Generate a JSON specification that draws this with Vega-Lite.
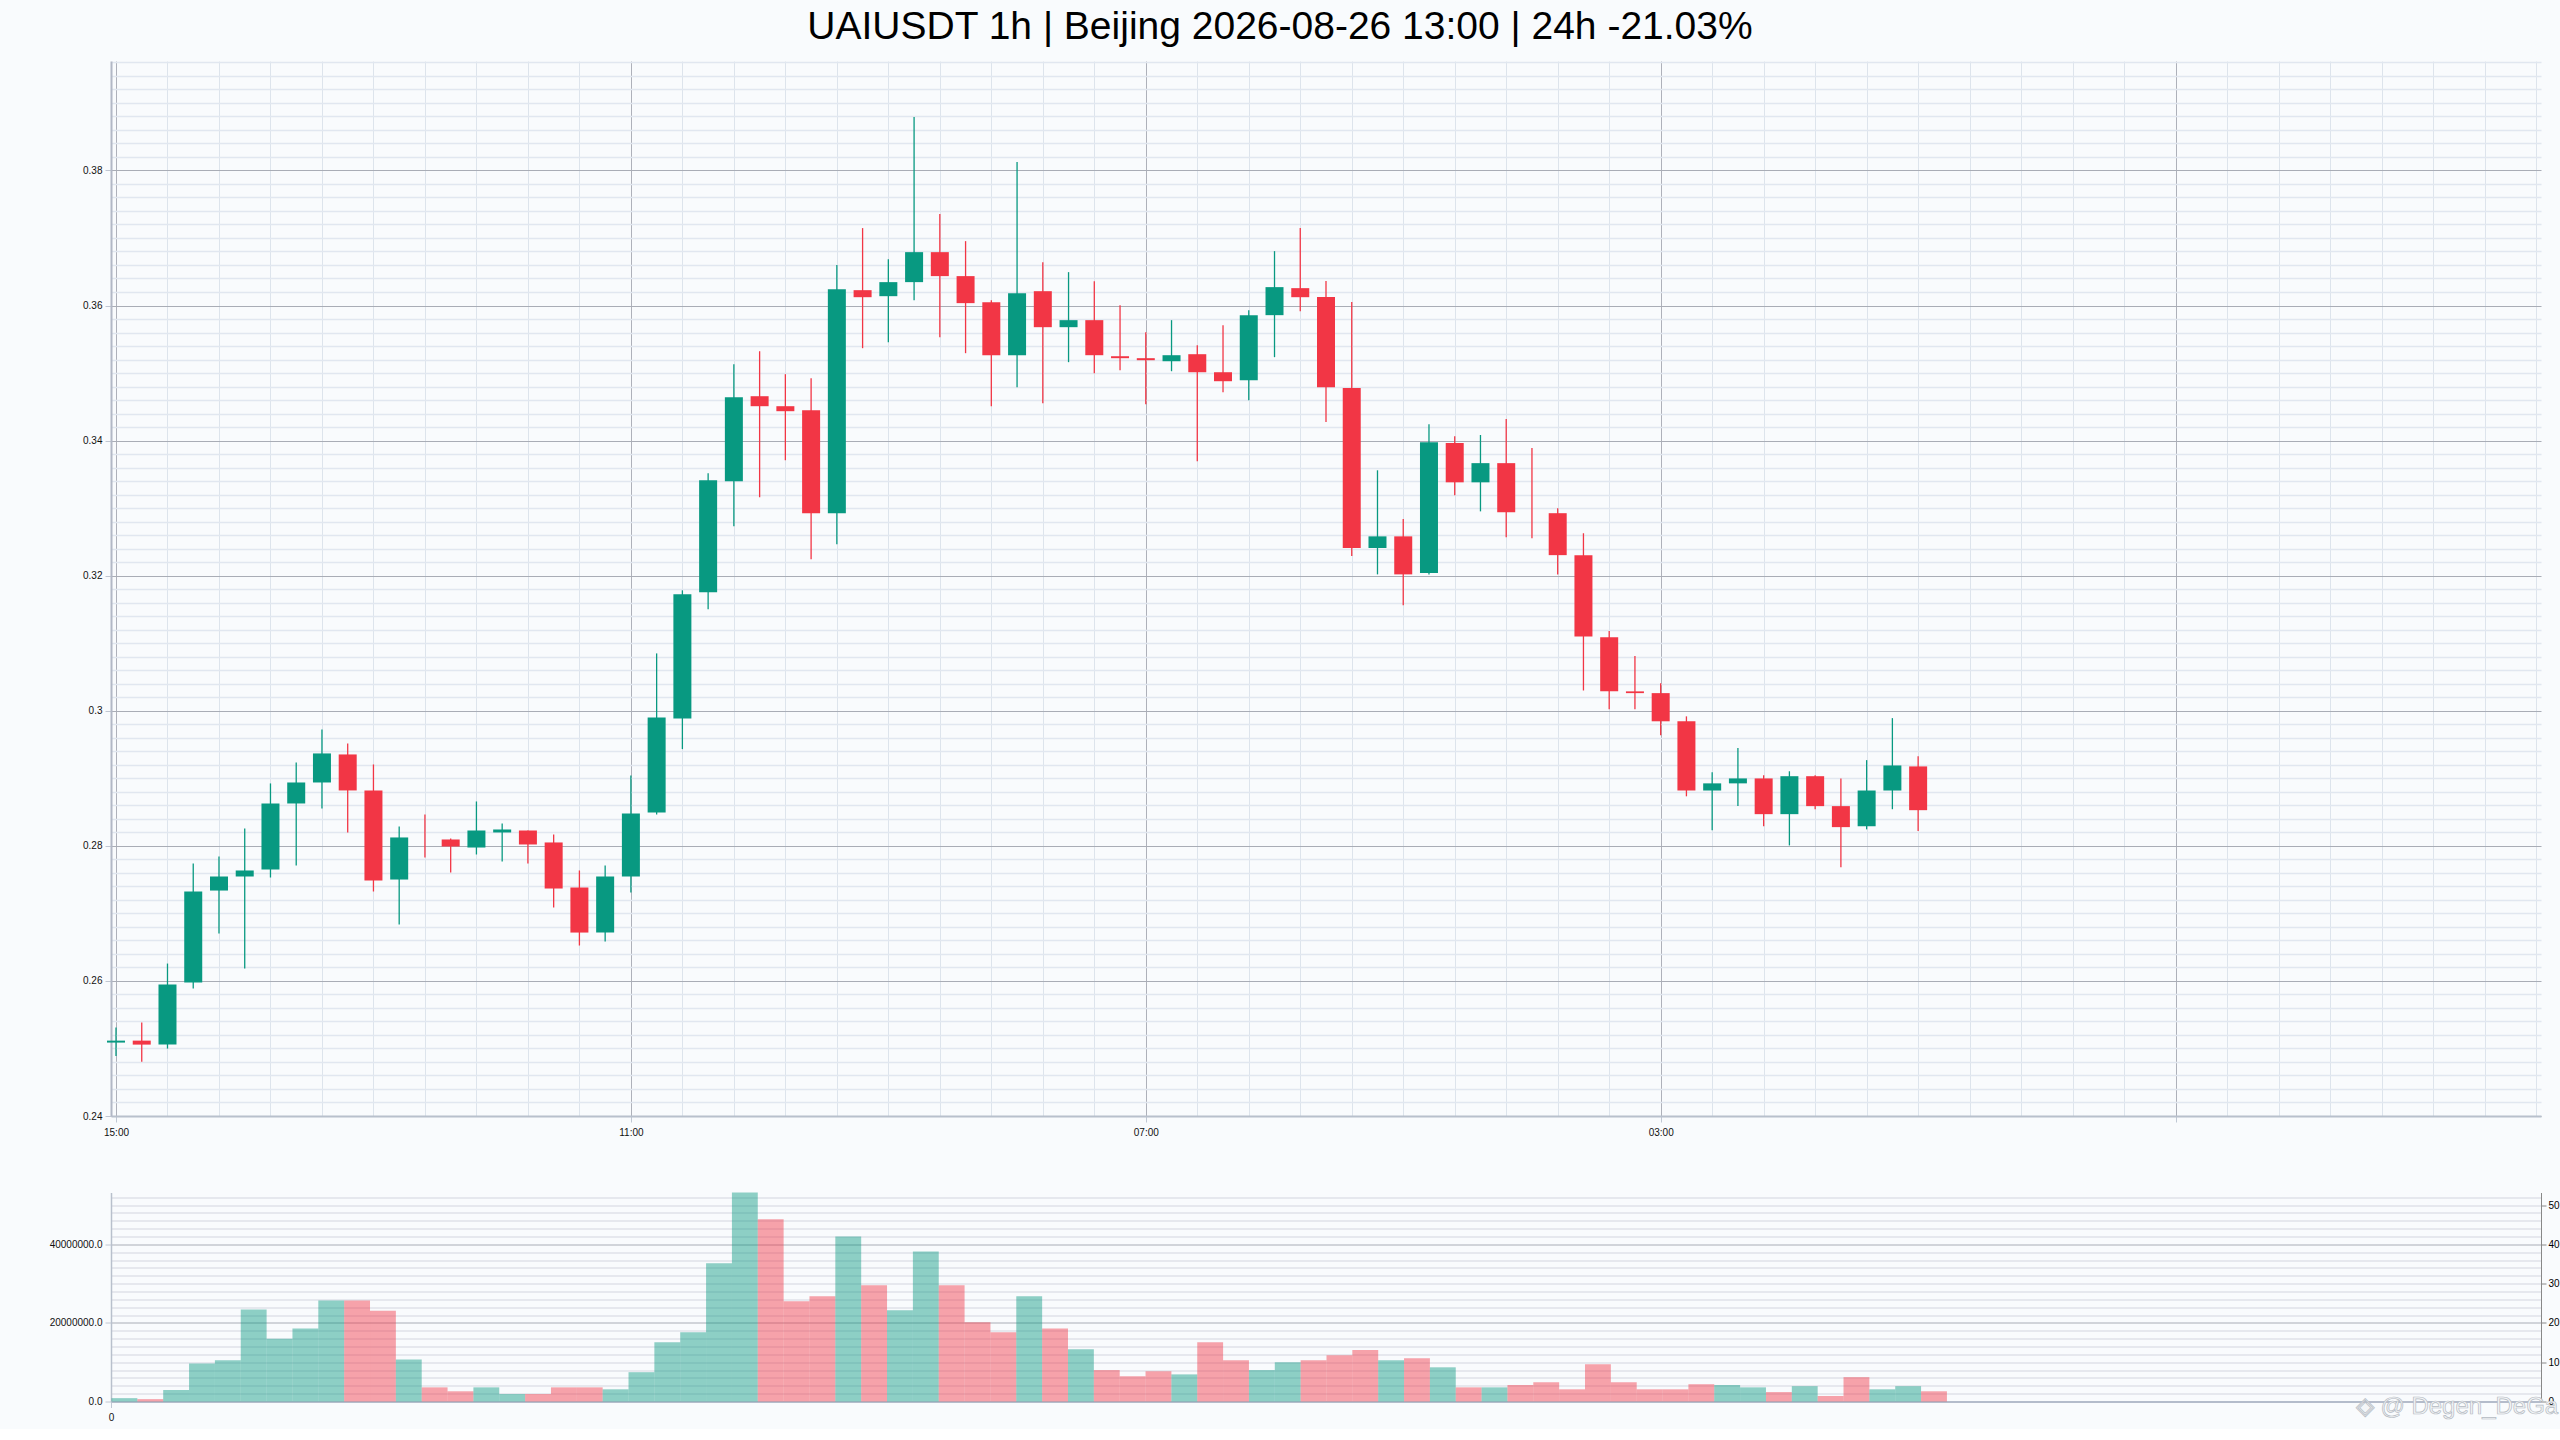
{
"$schema":"https://vega.github.io/schema/vega-lite/v6.json",
"background":"#f9fbfd",
"padding":{"left":49,"top":8,"right":20,"bottom":6},
"title":{"text":"UAIUSDT 1h | Beijing 2026-08-26 13:00 | 24h -21.03%","anchor":"start","align":"center","dx":1169,"frame":"group","font":"Liberation Sans","fontSize":39,"fontWeight":"normal","color":"#000000","offset":14},
"config":{"view":{"stroke":null},"font":"Liberation Sans"},
"bounds":"flush",
"spacing":76.5,
"datasets":{
"k":[
{"i":0,"t":"2026-08-23T15:00:00","o":0.25087,"h":0.25309,"l":0.24889,"c":0.25116,"v":0.85,"dir":"up"},
{"i":1,"t":"2026-08-23T16:00:00","o":0.25116,"h":0.25383,"l":0.24805,"c":0.25057,"v":0.6,"dir":"down"},
{"i":2,"t":"2026-08-23T17:00:00","o":0.25057,"h":0.26257,"l":0.24998,"c":0.25946,"v":2.9,"dir":"up"},
{"i":3,"t":"2026-08-23T18:00:00","o":0.25976,"h":0.27738,"l":0.25887,"c":0.27324,"v":9.7,"dir":"up"},
{"i":4,"t":"2026-08-23T19:00:00","o":0.27338,"h":0.27842,"l":0.26701,"c":0.27546,"v":10.5,"dir":"up"},
{"i":5,"t":"2026-08-23T20:00:00","o":0.27546,"h":0.28257,"l":0.26183,"c":0.27635,"v":23.4,"dir":"up"},
{"i":6,"t":"2026-08-23T21:00:00","o":0.27649,"h":0.28924,"l":0.27531,"c":0.28627,"v":16.0,"dir":"up"},
{"i":7,"t":"2026-08-23T22:00:00","o":0.28627,"h":0.29235,"l":0.27709,"c":0.28938,"v":18.6,"dir":"up"},
{"i":8,"t":"2026-08-23T23:00:00","o":0.28938,"h":0.29723,"l":0.28553,"c":0.29368,"v":25.7,"dir":"up"},
{"i":9,"t":"2026-08-24T00:00:00","o":0.29353,"h":0.29516,"l":0.28198,"c":0.2882,"v":25.7,"dir":"down"},
{"i":10,"t":"2026-08-24T01:00:00","o":0.2882,"h":0.29205,"l":0.27324,"c":0.27487,"v":23.1,"dir":"down"},
{"i":11,"t":"2026-08-24T02:00:00","o":0.27501,"h":0.28287,"l":0.26835,"c":0.28124,"v":10.7,"dir":"up"},
{"i":12,"t":"2026-08-24T03:00:00","o":0.281,"h":0.28464,"l":0.27827,"c":0.281,"v":3.6,"dir":"down"},
{"i":13,"t":"2026-08-24T04:00:00","o":0.28094,"h":0.28109,"l":0.27605,"c":0.2799,"v":2.6,"dir":"down"},
{"i":14,"t":"2026-08-24T05:00:00","o":0.27975,"h":0.28657,"l":0.27872,"c":0.28227,"v":3.6,"dir":"up"},
{"i":15,"t":"2026-08-24T06:00:00","o":0.28198,"h":0.28331,"l":0.27768,"c":0.28242,"v":1.9,"dir":"up"},
{"i":16,"t":"2026-08-24T07:00:00","o":0.28227,"h":0.28227,"l":0.27738,"c":0.2802,"v":1.9,"dir":"down"},
{"i":17,"t":"2026-08-24T08:00:00","o":0.2805,"h":0.28168,"l":0.27087,"c":0.27368,"v":3.6,"dir":"down"},
{"i":18,"t":"2026-08-24T09:00:00","o":0.27383,"h":0.27635,"l":0.26524,"c":0.26716,"v":3.6,"dir":"down"},
{"i":19,"t":"2026-08-24T10:00:00","o":0.26716,"h":0.27709,"l":0.26583,"c":0.27546,"v":3.1,"dir":"up"},
{"i":20,"t":"2026-08-24T11:00:00","o":0.27546,"h":0.29042,"l":0.27309,"c":0.28479,"v":7.46,"dir":"up"},
{"i":21,"t":"2026-08-24T12:00:00","o":0.28494,"h":0.30849,"l":0.28464,"c":0.29901,"v":15.1,"dir":"up"},
{"i":22,"t":"2026-08-24T13:00:00","o":0.29886,"h":0.31783,"l":0.29432,"c":0.31724,"v":17.6,"dir":"up"},
{"i":23,"t":"2026-08-24T14:00:00","o":0.31753,"h":0.33516,"l":0.31501,"c":0.33412,"v":35.2,"dir":"up"},
{"i":24,"t":"2026-08-24T15:00:00","o":0.33398,"h":0.35131,"l":0.32731,"c":0.34642,"v":53.2,"dir":"up"},
{"i":25,"t":"2026-08-24T16:00:00","o":0.34657,"h":0.35323,"l":0.33161,"c":0.34509,"v":46.4,"dir":"down"},
{"i":26,"t":"2026-08-24T17:00:00","o":0.34509,"h":0.34983,"l":0.33709,"c":0.34435,"v":25.5,"dir":"down"},
{"i":27,"t":"2026-08-24T18:00:00","o":0.34449,"h":0.34924,"l":0.32242,"c":0.32924,"v":26.8,"dir":"down"},
{"i":28,"t":"2026-08-24T19:00:00","o":0.32924,"h":0.36598,"l":0.32464,"c":0.36242,"v":42.0,"dir":"up"},
{"i":29,"t":"2026-08-24T20:00:00","o":0.36227,"h":0.37146,"l":0.35368,"c":0.36123,"v":29.6,"dir":"down"},
{"i":30,"t":"2026-08-24T21:00:00","o":0.36138,"h":0.36686,"l":0.35457,"c":0.36346,"v":23.2,"dir":"up"},
{"i":31,"t":"2026-08-24T22:00:00","o":0.36346,"h":0.3879,"l":0.36079,"c":0.3679,"v":38.2,"dir":"up"},
{"i":32,"t":"2026-08-24T23:00:00","o":0.3679,"h":0.37353,"l":0.35531,"c":0.36435,"v":29.6,"dir":"down"},
{"i":33,"t":"2026-08-25T00:00:00","o":0.36435,"h":0.36953,"l":0.35294,"c":0.36035,"v":20.2,"dir":"down"},
{"i":34,"t":"2026-08-25T01:00:00","o":0.36049,"h":0.36079,"l":0.34509,"c":0.35264,"v":17.6,"dir":"down"},
{"i":35,"t":"2026-08-25T02:00:00","o":0.35264,"h":0.38123,"l":0.3479,"c":0.36183,"v":26.8,"dir":"up"},
{"i":36,"t":"2026-08-25T03:00:00","o":0.36212,"h":0.36642,"l":0.34553,"c":0.35679,"v":18.6,"dir":"down"},
{"i":37,"t":"2026-08-25T04:00:00","o":0.35679,"h":0.36494,"l":0.35161,"c":0.35783,"v":13.3,"dir":"up"},
{"i":38,"t":"2026-08-25T05:00:00","o":0.35783,"h":0.3636,"l":0.34998,"c":0.35264,"v":8.0,"dir":"down"},
{"i":39,"t":"2026-08-25T06:00:00","o":0.35249,"h":0.36005,"l":0.35042,"c":0.3522,"v":6.4,"dir":"down"},
{"i":40,"t":"2026-08-25T07:00:00","o":0.3522,"h":0.35605,"l":0.34538,"c":0.3519,"v":7.7,"dir":"down"},
{"i":41,"t":"2026-08-25T08:00:00","o":0.35175,"h":0.35783,"l":0.35027,"c":0.35264,"v":6.9,"dir":"up"},
{"i":42,"t":"2026-08-25T09:00:00","o":0.35279,"h":0.35412,"l":0.33694,"c":0.35012,"v":15.1,"dir":"down"},
{"i":43,"t":"2026-08-25T10:00:00","o":0.35012,"h":0.35709,"l":0.34716,"c":0.34879,"v":10.5,"dir":"down"},
{"i":44,"t":"2026-08-25T11:00:00","o":0.34894,"h":0.35931,"l":0.34598,"c":0.35857,"v":8.0,"dir":"up"},
{"i":45,"t":"2026-08-25T12:00:00","o":0.35857,"h":0.36805,"l":0.35235,"c":0.36272,"v":10.0,"dir":"up"},
{"i":46,"t":"2026-08-25T13:00:00","o":0.36257,"h":0.37146,"l":0.35916,"c":0.36123,"v":10.5,"dir":"down"},
{"i":47,"t":"2026-08-25T14:00:00","o":0.36126,"h":0.36364,"l":0.34274,"c":0.3479,"v":11.8,"dir":"down"},
{"i":48,"t":"2026-08-25T15:00:00","o":0.34777,"h":0.36053,"l":0.32291,"c":0.3241,"v":13.1,"dir":"down"},
{"i":49,"t":"2026-08-25T16:00:00","o":0.3241,"h":0.3356,"l":0.32019,"c":0.32582,"v":10.5,"dir":"up"},
{"i":50,"t":"2026-08-25T17:00:00","o":0.32582,"h":0.32839,"l":0.31563,"c":0.32019,"v":11.0,"dir":"down"},
{"i":51,"t":"2026-08-25T18:00:00","o":0.32039,"h":0.34241,"l":0.32019,"c":0.33977,"v":8.7,"dir":"up"},
{"i":52,"t":"2026-08-25T19:00:00","o":0.33964,"h":0.34063,"l":0.3319,"c":0.33382,"v":3.6,"dir":"down"},
{"i":53,"t":"2026-08-25T20:00:00","o":0.33382,"h":0.34083,"l":0.32952,"c":0.33666,"v":3.6,"dir":"up"},
{"i":54,"t":"2026-08-25T21:00:00","o":0.33666,"h":0.34321,"l":0.32568,"c":0.32939,"v":4.2,"dir":"down"},
{"i":55,"t":"2026-08-25T22:00:00","o":0.3293,"h":0.33891,"l":0.32555,"c":0.3293,"v":4.9,"dir":"down"},
{"i":56,"t":"2026-08-25T23:00:00","o":0.32925,"h":0.32998,"l":0.32019,"c":0.32304,"v":3.1,"dir":"down"},
{"i":57,"t":"2026-08-26T00:00:00","o":0.32304,"h":0.32628,"l":0.303,"c":0.311,"v":9.5,"dir":"down"},
{"i":58,"t":"2026-08-26T01:00:00","o":0.31087,"h":0.3118,"l":0.30023,"c":0.30287,"v":4.9,"dir":"down"},
{"i":59,"t":"2026-08-26T02:00:00","o":0.30287,"h":0.30809,"l":0.30023,"c":0.30261,"v":3.1,"dir":"down"},
{"i":60,"t":"2026-08-26T03:00:00","o":0.30261,"h":0.30406,"l":0.29639,"c":0.29844,"v":3.1,"dir":"down"},
{"i":61,"t":"2026-08-26T04:00:00","o":0.29844,"h":0.29917,"l":0.28733,"c":0.28819,"v":4.4,"dir":"down"},
{"i":62,"t":"2026-08-26T05:00:00","o":0.28819,"h":0.29091,"l":0.28231,"c":0.28925,"v":4.2,"dir":"up"},
{"i":63,"t":"2026-08-26T06:00:00","o":0.28925,"h":0.29448,"l":0.28588,"c":0.28998,"v":3.6,"dir":"up"},
{"i":64,"t":"2026-08-26T07:00:00","o":0.28998,"h":0.29044,"l":0.2829,"c":0.28469,"v":2.4,"dir":"down"},
{"i":65,"t":"2026-08-26T08:00:00","o":0.28469,"h":0.29104,"l":0.28006,"c":0.29031,"v":3.9,"dir":"up"},
{"i":66,"t":"2026-08-26T09:00:00","o":0.29031,"h":0.29044,"l":0.28542,"c":0.28588,"v":1.4,"dir":"down"},
{"i":67,"t":"2026-08-26T10:00:00","o":0.28588,"h":0.28998,"l":0.27682,"c":0.28277,"v":6.2,"dir":"down"},
{"i":68,"t":"2026-08-26T11:00:00","o":0.2829,"h":0.29269,"l":0.28244,"c":0.28819,"v":3.1,"dir":"up"},
{"i":69,"t":"2026-08-26T12:00:00","o":0.28819,"h":0.29891,"l":0.28542,"c":0.2919,"v":3.9,"dir":"up"},
{"i":70,"t":"2026-08-26T13:00:00","o":0.29176,"h":0.29328,"l":0.28218,"c":0.28528,"v":2.6,"dir":"down"}
]},
"vconcat":[
{
"width":2430,"height":1055,
"data":{"name":"k"},
"resolve":{"axis":{"x":"independent","y":"independent"}},
"layer":[
{"mark":{"type":"rule","strokeWidth":1.3},
"encoding":{
"x":{"field":"t","type":"temporal","scale":{"domain":["2026-08-23T15:00:00","2026-08-27T13:00:00"],"nice":false},
"axis":{"orient":"bottom","title":null,"labels":false,"ticks":false,"domain":false,"grid":true,"gridColor":"#dde4ec","gridWidth":1,
"values":["2026-08-23T17:00:00","2026-08-23T19:00:00","2026-08-23T21:00:00","2026-08-23T23:00:00","2026-08-24T01:00:00","2026-08-24T03:00:00","2026-08-24T05:00:00","2026-08-24T07:00:00","2026-08-24T09:00:00","2026-08-24T13:00:00","2026-08-24T15:00:00","2026-08-24T17:00:00","2026-08-24T19:00:00","2026-08-24T21:00:00","2026-08-24T23:00:00","2026-08-25T01:00:00","2026-08-25T03:00:00","2026-08-25T05:00:00","2026-08-25T09:00:00","2026-08-25T11:00:00","2026-08-25T13:00:00","2026-08-25T15:00:00","2026-08-25T17:00:00","2026-08-25T19:00:00","2026-08-25T21:00:00","2026-08-25T23:00:00","2026-08-26T01:00:00","2026-08-26T05:00:00","2026-08-26T07:00:00","2026-08-26T09:00:00","2026-08-26T11:00:00","2026-08-26T13:00:00","2026-08-26T15:00:00","2026-08-26T17:00:00","2026-08-26T19:00:00","2026-08-26T21:00:00","2026-08-27T01:00:00","2026-08-27T03:00:00","2026-08-27T05:00:00","2026-08-27T07:00:00","2026-08-27T09:00:00","2026-08-27T11:00:00","2026-08-27T13:00:00"]}},
"y":{"field":"l","type":"quantitative","scale":{"domain":[0.24,0.3962],"nice":false,"zero":false},
"axis":{"orient":"left","title":null,"labels":false,"ticks":false,"domain":false,"grid":true,"gridColor":"#e1e7f0","gridWidth":1.4,
"values":[0.242,0.244,0.246,0.248,0.25,0.252,0.254,0.256,0.258,0.262,0.264,0.266,0.268,0.27,0.272,0.274,0.276,0.278,0.282,0.284,0.286,0.288,0.29,0.292,0.294,0.296,0.298,0.302,0.304,0.306,0.308,0.31,0.312,0.314,0.316,0.318,0.322,0.324,0.326,0.328,0.33,0.332,0.334,0.336,0.338,0.342,0.344,0.346,0.348,0.35,0.352,0.354,0.356,0.358,0.362,0.364,0.366,0.368,0.37,0.372,0.374,0.376,0.378,0.382,0.384,0.386,0.388,0.39,0.392,0.394,0.396]}},
"y2":{"field":"h"},
"color":{"field":"dir","type":"nominal","scale":{"domain":["up","down"],"range":["#089981","#f23645"]},"legend":null}
}},
{"mark":{"type":"bar","width":18},
"encoding":{
"x":{"field":"t","type":"temporal",
"axis":{"orient":"bottom","title":null,"values":["2026-08-23T15:00:00","2026-08-24T11:00:00","2026-08-25T07:00:00","2026-08-26T03:00:00","2026-08-26T23:00:00"],"labelExpr":"datum.index==1?'':timeFormat(datum.value,'%H:%M')","labelFont":"Liberation Sans","labelFontSize":10,"labelColor":"#111111","labelPadding":5,"labelOverlap":false,"labelBound":false,"labelFlush":false,"domainColor":"#b8c0cc","domainWidth":2,"tickColor":"#c0c8d4","tickSize":6,"tickWidth":1,"grid":true,"gridColor":"#aeb1ba","gridWidth":1}},
"y":{"field":"o","type":"quantitative",
"axis":{"orient":"left","title":null,"values":[0.24,0.26,0.28,0.3,0.32,0.34,0.36,0.38],"format":".2~f","labelFont":"Liberation Sans","labelFontSize":10,"labelColor":"#111111","labelPadding":3,"domainColor":"#b2b8c6","domainWidth":2,"tickColor":"#c0c6d2","tickSize":6,"tickWidth":1,"grid":true,"gridColor":"#a9adb6","gridWidth":1}},
"y2":{"field":"c"},
"color":{"field":"dir","type":"nominal","legend":null}
}}
]
},
{
"width":2430,"height":209,
"resolve":{"axis":{"y":"independent"}},
"layer":[
{"data":{"name":"k"},"transform":[{"calculate":"datum.v*1000000","as":"volume"}],
"mark":{"type":"bar","opacity":0.45,"binSpacing":0},
"encoding":{
"x":{"field":"t","type":"temporal","timeUnit":"yearmonthdatehours","scale":{"domain":["2026-08-23T15:00:00","2026-08-27T13:00:00"],"nice":false},
"axis":{"orient":"bottom","title":null,"values":["2026-08-23T15:00:00"],"labelExpr":"'0'","labelFont":"Liberation Sans","labelFontSize":10,"labelColor":"#111111","labelPadding":5,"labelFlush":false,"labelBound":false,"domainColor":"#b4bccb","domainWidth":2,"tickColor":"#c0c8d4","tickSize":6,"grid":false}},
"y":{"field":"volume","type":"quantitative","scale":{"domain":[0,53200000],"nice":false},
"axis":{"orient":"left","title":null,"values":[2000000,4000000,6000000,8000000,10000000,12000000,14000000,16000000,18000000,22000000,24000000,26000000,28000000,30000000,32000000,34000000,36000000,38000000,42000000,44000000,46000000,48000000,50000000,52000000],"labels":false,"ticks":false,"domain":false,"grid":true,"gridColor":"#dfe2e8","gridWidth":1.4}},
"color":{"field":"dir","type":"nominal","scale":{"domain":["up","down"],"range":["#089981","#f23645"]},"legend":null}
}},
{"data":{"values":[{"t":"2026-08-23T15:00:00","volume":0}]},
"mark":{"type":"rule","opacity":0},
"encoding":{
"y":{"field":"volume","type":"quantitative",
"axis":{"orient":"left","title":null,"values":[0,20000000,40000000],"format":".1f","labelFont":"Liberation Sans","labelFontSize":10,"labelColor":"#111111","labelPadding":3,"domainColor":"#b8c0cc","domainWidth":1.5,"tickColor":"#c0c6d2","tickSize":6,"grid":true,"gridColor":"#a9adb6","gridWidth":1}}
}},
{"data":{"values":[{"t":"2026-08-27T05:50:00","volume":-1500000,"label":"◈ @ Degen_DeGa"}]},
"mark":{"type":"text","align":"left","baseline":"middle","font":"Liberation Sans","fontSize":24,"fill":"#f4f6f8","stroke":"#b4bac2","strokeWidth":0.7,"clip":false},
"encoding":{
"x":{"field":"t","type":"temporal"},
"y":{"field":"volume","type":"quantitative"},
"text":{"field":"label"}
}}
]
}
]
}
